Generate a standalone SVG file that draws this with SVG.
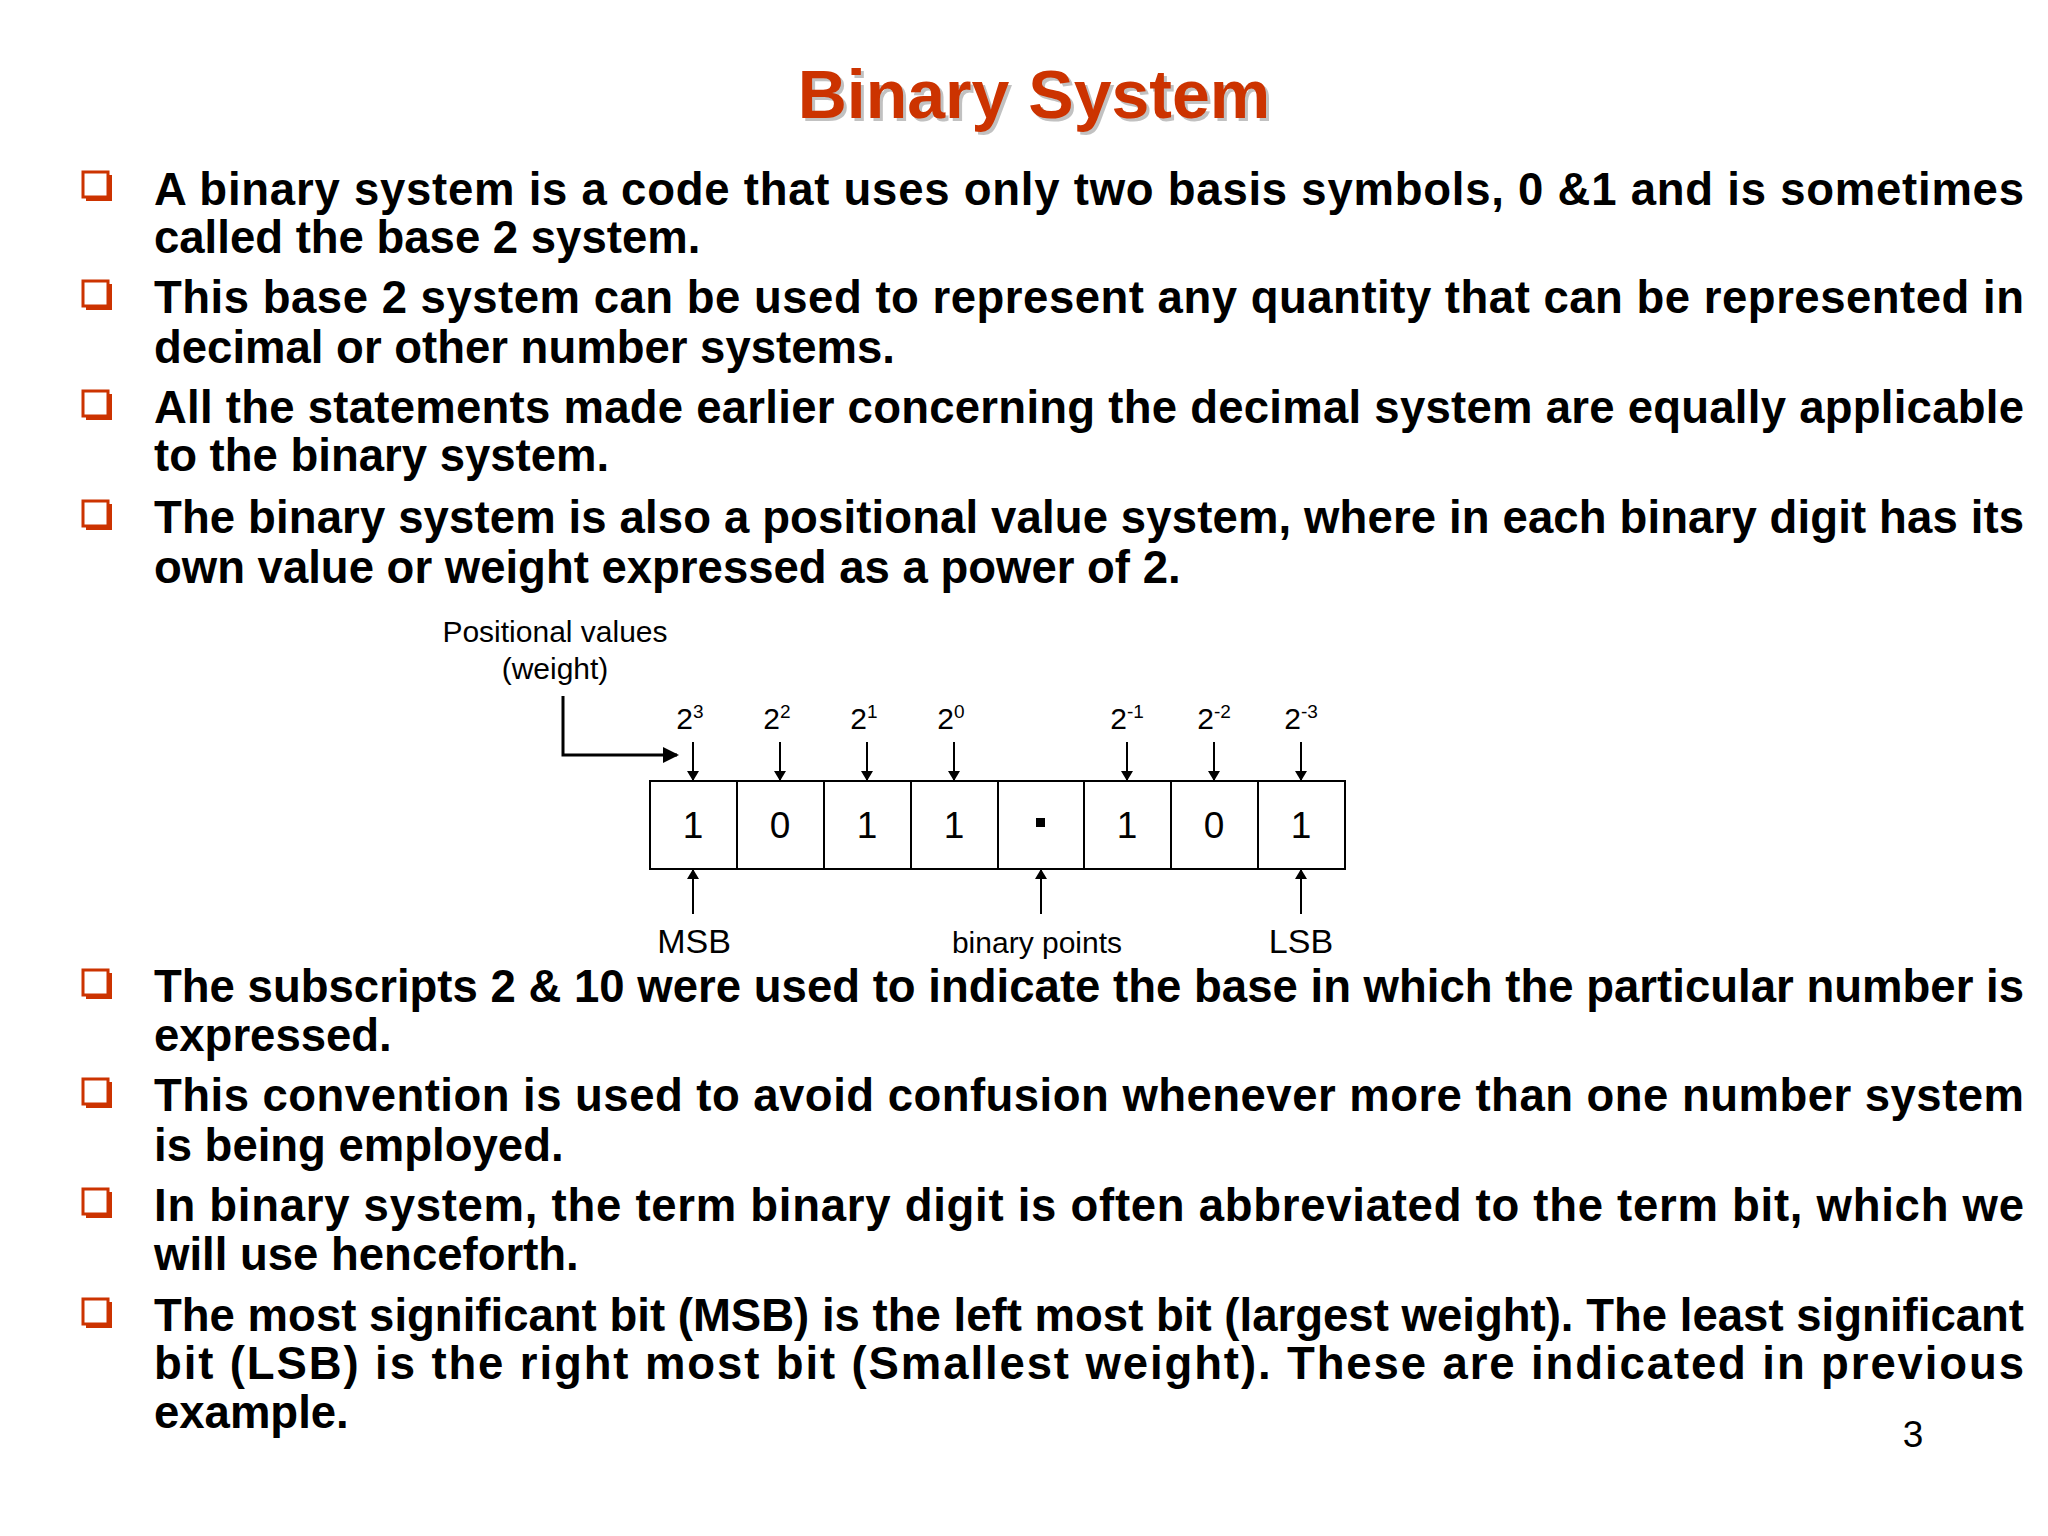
<svg xmlns="http://www.w3.org/2000/svg" width="2048" height="1536" viewBox="0 0 2048 1536">
<style>
.t{font-family:"Liberation Sans",Arial,sans-serif;font-weight:bold;font-size:45.5px;fill:#000}
.d{font-family:"Liberation Sans",Arial,sans-serif;fill:#000}
.cell{fill:#fff;stroke:#000;stroke-width:2}
.ar{stroke:#000;stroke-width:2;fill:none;marker-end:url(#ah)}
</style>
<defs>
<marker id="ah" markerWidth="10" markerHeight="12" refX="9" refY="6" orient="auto" markerUnits="userSpaceOnUse"><path d="M0,0 L10,6 L0,12 Z" fill="#000"/></marker>
<marker id="ah2" markerWidth="16" markerHeight="16" refX="14" refY="8" orient="auto" markerUnits="userSpaceOnUse"><path d="M0,0 L16,8 L0,16 Z" fill="#000"/></marker>
<g id="bl"><rect x="3" y="3" width="26" height="26" fill="#cc3300"/><rect x="0" y="0" width="25" height="25" fill="#fff" stroke="#cc3300" stroke-width="3"/></g>
</defs>
<rect width="2048" height="1536" fill="#fff"/>
<g id="title"><text x="1037" y="121" text-anchor="middle" font-family="Liberation Sans,Arial,sans-serif" font-weight="bold" font-size="68" fill="#999" opacity="0.6">Binary System</text><text x="1034" y="118" text-anchor="middle" font-family="Liberation Sans,Arial,sans-serif" font-weight="bold" font-size="68" fill="#cc3300">Binary System</text></g>
<g id="bullets">
<use href="#bl" x="83" y="172"/><use href="#bl" x="83" y="281"/><use href="#bl" x="83" y="391"/><use href="#bl" x="83" y="501"/><use href="#bl" x="83" y="970"/><use href="#bl" x="83" y="1079"/><use href="#bl" x="83" y="1189"/><use href="#bl" x="83" y="1299"/>
<text class="t" x="154" y="205" textLength="1870" lengthAdjust="spacing">A binary system is a code that uses only two basis symbols, 0 &amp;1 and is sometimes</text>
<text class="t" x="154" y="253">called the base 2 system.</text>
<text class="t" x="154" y="313" textLength="1870" lengthAdjust="spacing">This base 2 system can be used to represent any quantity that can be represented in</text>
<text class="t" x="154" y="363">decimal or other number systems.</text>
<text class="t" x="154" y="423" textLength="1870" lengthAdjust="spacing">All the statements made earlier concerning the decimal system are equally applicable</text>
<text class="t" x="154" y="471">to the binary system.</text>
<text class="t" x="154" y="533" textLength="1870" lengthAdjust="spacing">The binary system is also a positional value system, where in each binary digit has its</text>
<text class="t" x="154" y="583">own value or weight expressed as a power of 2.</text>
<text class="t" x="154" y="1002" textLength="1870" lengthAdjust="spacing">The subscripts 2 &amp; 10 were used to indicate the base in which the particular number is</text>
<text class="t" x="154" y="1051">expressed.</text>
<text class="t" x="154" y="1111" textLength="1870" lengthAdjust="spacing">This convention is used to avoid confusion whenever more than one number system</text>
<text class="t" x="154" y="1161">is being employed.</text>
<text class="t" x="154" y="1221" textLength="1870" lengthAdjust="spacing">In binary system, the term binary digit is often abbreviated to the term bit, which we</text>
<text class="t" x="154" y="1270">will use henceforth.</text>
<text class="t" x="154" y="1331" textLength="1870" lengthAdjust="spacing">The most significant bit (MSB) is the left most bit (largest weight). The least significant</text>
<text class="t" x="154" y="1379" textLength="1870" lengthAdjust="spacing">bit (LSB) is the right most bit (Smallest weight). These are indicated in previous</text>
<text class="t" x="154" y="1428">example.</text>
</g>
<g id="register">
<rect class="cell" x="650" y="781" width="87" height="88"/><rect class="cell" x="737" y="781" width="87" height="88"/><rect class="cell" x="824" y="781" width="87" height="88"/><rect class="cell" x="911" y="781" width="87" height="88"/><rect class="cell" x="998" y="781" width="86" height="88"/><rect class="cell" x="1084" y="781" width="87" height="88"/><rect class="cell" x="1171" y="781" width="87" height="88"/><rect class="cell" x="1258" y="781" width="87" height="88"/>
<g class="d" font-size="37" text-anchor="middle"><text x="693" y="838">1</text><text x="780" y="838">0</text><text x="867" y="838">1</text><text x="954" y="838">1</text><text x="1127" y="838">1</text><text x="1214" y="838">0</text><text x="1301" y="838">1</text></g>
<rect x="1036" y="818" width="9" height="9" fill="#000"/>
</g>
<g id="labels" class="d">
<text x="555" y="642" font-size="30" text-anchor="middle">Positional values</text>
<text x="555" y="679" font-size="30" text-anchor="middle">(weight)</text>
<g font-size="30" text-anchor="middle">
<text x="690" y="729">2<tspan font-size="19" dy="-11">3</tspan></text>
<text x="777" y="729">2<tspan font-size="19" dy="-11">2</tspan></text>
<text x="864" y="729">2<tspan font-size="19" dy="-11">1</tspan></text>
<text x="951" y="729">2<tspan font-size="19" dy="-11">0</tspan></text>
<text x="1127" y="729">2<tspan font-size="19" dy="-11">-1</tspan></text>
<text x="1214" y="729">2<tspan font-size="19" dy="-11">-2</tspan></text>
<text x="1301" y="729">2<tspan font-size="19" dy="-11">-3</tspan></text>
</g>
<text x="694" y="953" font-size="34" text-anchor="middle">MSB</text>
<text x="1037" y="953" font-size="30" text-anchor="middle">binary points</text>
<text x="1301" y="953" font-size="34" text-anchor="middle">LSB</text>
<text x="1913" y="1447" font-size="37" text-anchor="middle">3</text>
</g>
<g id="connectors">
<path d="M563,696 V755 H677" stroke="#000" stroke-width="3" fill="none" marker-end="url(#ah2)"/>
<path class="ar" d="M693,742 V780"/><path class="ar" d="M780,742 V780"/><path class="ar" d="M867,742 V780"/><path class="ar" d="M954,742 V780"/><path class="ar" d="M1127,742 V780"/><path class="ar" d="M1214,742 V780"/><path class="ar" d="M1301,742 V780"/>
<path class="ar" d="M693,914 V870"/><path class="ar" d="M1041,914 V870"/><path class="ar" d="M1301,914 V870"/>
</g>
</svg>
